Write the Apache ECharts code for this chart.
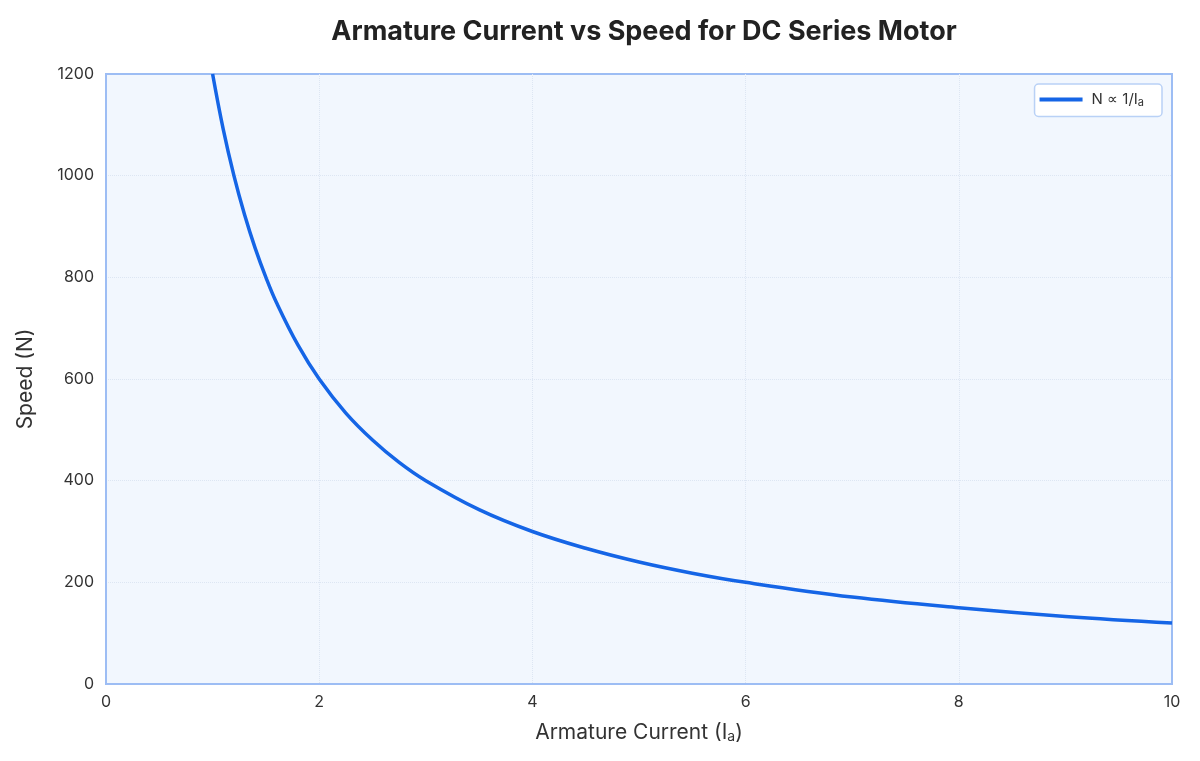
<!DOCTYPE html>
<html>
<head>
<meta charset="utf-8">
<script src="https://cdn.jsdelivr.net/npm/echarts@6/dist/echarts.min.js"></script>
<style>
  html, body { margin: 0; padding: 0; background: #fff; }
  #chart { width: 1200px; height: 761px; }
</style>
</head>
<body>
<div id="chart"></div>
<script>
// armature current (A) and speed
var current = [1, 1.1, 1.2, 1.3, 1.4, 1.5, 1.6, 1.8, 2, 2.25, 2.5, 2.75, 3, 3.5, 4, 4.5, 5, 5.5, 6, 7, 8, 9, 10];
var speed = [1200, 1091, 1000, 923, 857, 800, 750, 667, 600, 533, 480, 436, 400, 343, 300, 267, 240, 218, 200, 171, 150, 133, 120];
var xTicks = [0, 2, 4, 6, 8, 10];
var yTicks = [0, 200, 400, 600, 800, 1000, 1200];

var font = 'Inter, "Noto Sans", sans-serif';
var points = current.map(function (c, i) { return [c, speed[i]]; });

var myChart = echarts.init(document.getElementById('chart'));

var option = {
    backgroundColor: '#ffffff',
    textStyle: { fontFamily: font },
    title: {
        text: 'Armature Current vs Speed for DC Series Motor',
        left: 639,
        textAlign: 'center',
        top: 13,
        textStyle: { fontSize: 27, fontWeight: 'bold', color: '#222', fontFamily: font }
    },
    grid: {
        left: 106, right: 28, top: 74, bottom: 77,
        show: true,
        backgroundColor: '#f2f7fe',
        borderColor: '#9dbdf4',
        borderWidth: 2
    },
    legend: {
        right: 38, top: 84,
        padding: [8, 18, 8, 5],
        borderColor: '#b9d1f6',
        borderWidth: 1.5,
        borderRadius: 4,
        backgroundColor: '#ffffff',
        itemWidth: 43, itemHeight: 4,
        itemGap: 10,
        data: [{ name: 'N ∝ 1/Ia', icon: 'rect' }],
        formatter: function () { return 'N ∝ 1/I{sub|a}'; },
        textStyle: {
            fontSize: 15, color: '#333', fontFamily: font, padding: [0, 0, 0, 4],
            rich: { sub: { fontSize: 11, padding: [7, 0, 0, 0], color: '#333', fontFamily: font } }
        }
    },
    xAxis: {
        type: 'value',
        min: xTicks[0], max: xTicks[xTicks.length - 1], interval: 2,
        name: 'Armature Current (I{sub|a})',
        nameLocation: 'middle',
        nameGap: 38,
        nameTextStyle: {
            fontSize: 21, color: '#333', fontFamily: font,
            rich: { sub: { fontSize: 14, padding: [8, 0, 0, 0], color: '#333', fontFamily: font } }
        },
        axisLine: { show: true, lineStyle: { color: '#9dbdf4', width: 2 } },
        axisTick: { show: false },
        axisLabel: { fontSize: 16, color: '#333', margin: 10 },
        splitLine: { show: true, showMinLine: false, showMaxLine: false, lineStyle: { color: '#dde6f3', type: 'dotted', width: 1 } }
    },
    yAxis: {
        type: 'value',
        min: yTicks[0], max: yTicks[yTicks.length - 1], interval: 200,
        name: 'Speed (N)',
        nameLocation: 'middle',
        nameGap: 70,
        nameTextStyle: { fontSize: 21, color: '#333', fontFamily: font },
        axisLine: { show: true, lineStyle: { color: '#9dbdf4', width: 2 } },
        axisTick: { show: false },
        axisLabel: { fontSize: 16, color: '#333', margin: 12, formatter: function (v) { return String(v); } },
        splitLine: { show: true, showMinLine: false, showMaxLine: false, lineStyle: { color: '#dde6f3', type: 'dotted', width: 1 } }
    },
    series: [{
        name: 'N ∝ 1/Ia',
        type: 'line',
        data: points,
        smooth: 0.4,
        showSymbol: false,
        lineStyle: { color: '#1565e6', width: 3.5 },
        itemStyle: { color: '#1565e6' }
    }]
};

myChart.setOption(option);
</script>
</body>
</html>
